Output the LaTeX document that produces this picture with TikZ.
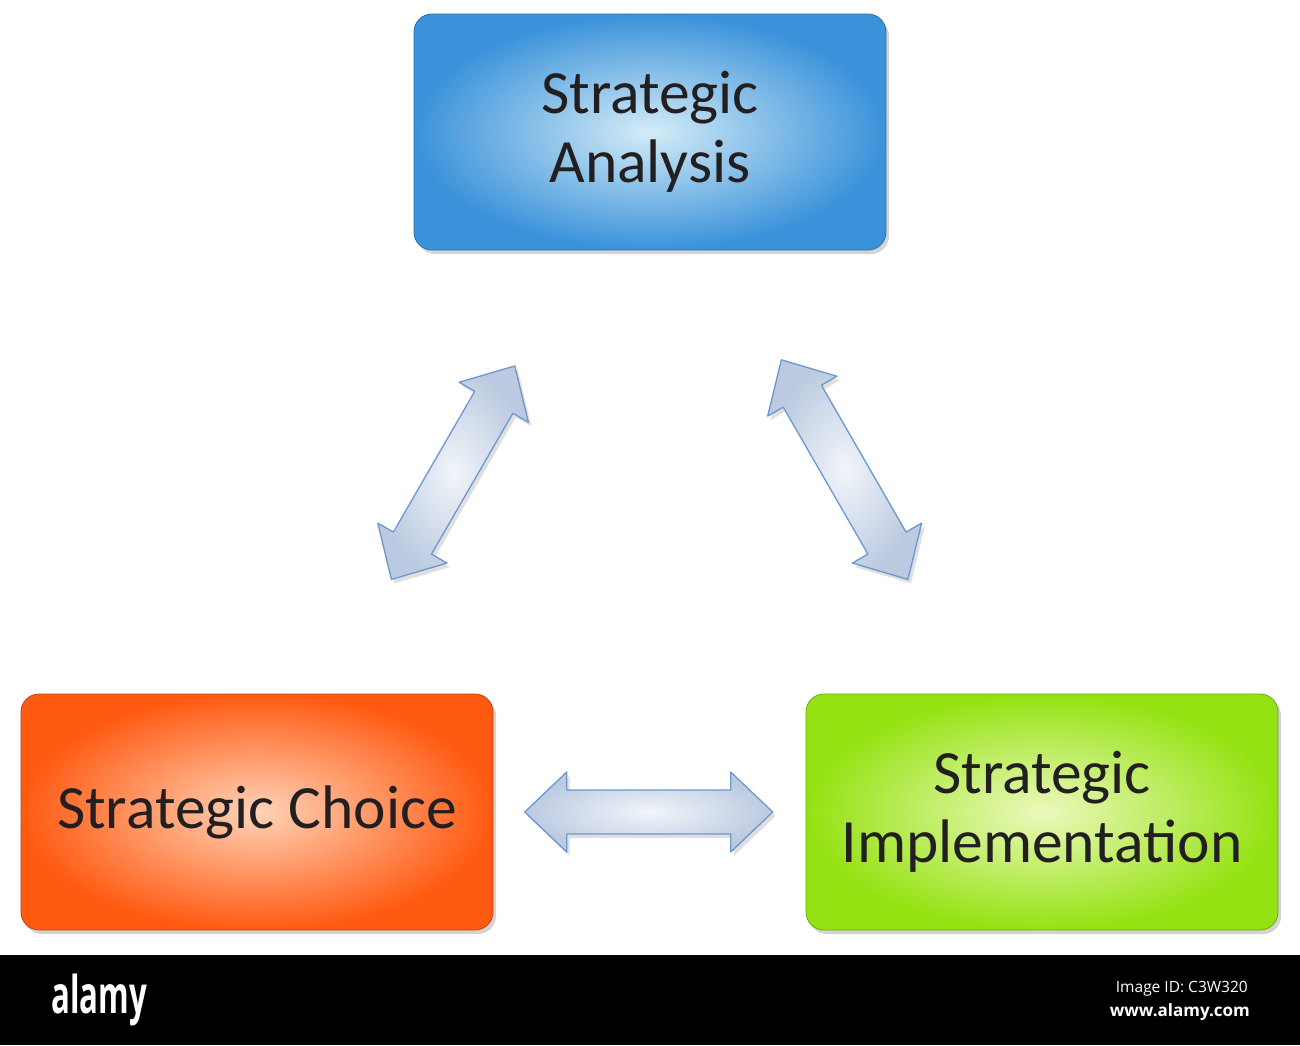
\documentclass[tikz,border=0pt]{standalone}
\usepackage{fontspec}
\setmainfont{Carlito}
\newfontfamily\barfont{Open Sans}
\newfontfamily\logofont[FakeStretch=0.6]{Open Sans}
\usetikzlibrary{calc,shadows}

\definecolor{textdark}{HTML}{231F20}
\definecolor{bluein}{HTML}{D4ECF7}
\definecolor{blueout}{HTML}{3A92DA}
\definecolor{orangein}{HTML}{FFD3B8}
\definecolor{orangeout}{HTML}{FF5A12}
\definecolor{greenin}{HTML}{ECF9BC}
\definecolor{greenout}{HTML}{94E212}
\definecolor{arrowin}{HTML}{F2F5FA}
\definecolor{arrowout}{HTML}{BBCAE0}
\definecolor{arrowedge}{HTML}{6C98CF}

\begin{document}
\begin{tikzpicture}[x=1pt, y=-1pt,
  stage/.style={draw=#1!75!black, line width=0.8pt, rounded corners=18pt,
    minimum width=472pt, minimum height=236pt, align=center, text=textdark,
    font=\fontsize{61.5}{69}\selectfont,
    drop shadow={opacity=0.35, shadow xshift=3pt, shadow yshift=-4pt}},
  twoway/.style={draw=arrowedge, line width=1.3pt, line join=round,
    inner color=arrowin, outer color=arrowout,
    drop shadow={opacity=0.25, shadow xshift=3pt, shadow yshift=-4pt}},
  bartext/.style={text=white, inner sep=0pt}
]

\def \hl {42pt}  % head length
\def \hw {40pt}  % head half width
\def \sw {22pt}  % shaft half width

\useasboundingbox (0,0) rectangle (1300,1045);

% the three stages
\node[stage=blueout, inner color=bluein, outer color=blueout] (analysis) at (650,132)
  {Strategic\\Analysis};
\node[stage=orangeout, inner color=orangein, outer color=orangeout] (choice) at (257,812)
  {Strategic Choice};
\node[stage=greenout, inner color=greenin, outer color=greenout] (implementation) at (1042,812)
  {Strategic\\Implementation};

% double arrows between the stages
\foreach \a/\b/\s/\e in {choice/analysis/0.342/0.656,
                         analysis/implementation/0.335/0.658,
                         choice/implementation/0.341/0.657}
{
  \coordinate (p) at ($(\a)!\s!(\b)$);
  \coordinate (q) at ($(\a)!\e!(\b)$);
  \coordinate (hp) at ($(p)!\hl!(q)$);
  \coordinate (hq) at ($(q)!\hl!(p)$);
  \draw[twoway] (p) -- ($(hp)!\hw!90:(q)$) -- ($(hp)!\sw!90:(q)$)
    -- ($(hq)!\sw!-90:(p)$) -- ($(hq)!\hw!-90:(p)$) -- (q)
    -- ($(hq)!\hw!90:(p)$) -- ($(hq)!\sw!90:(p)$)
    -- ($(hp)!\sw!-90:(q)$) -- ($(hp)!\hw!-90:(q)$) -- cycle;
}

% bottom bar
\fill[black] (0,955) rectangle (1300,1045);
\node[bartext, anchor=base west, font=\logofont\bfseries\fontsize{52}{52}\selectfont]
  (logo) at (51,1013) {alamy};
\node[bartext, anchor=base east, font=\barfont\fontsize{15.5}{16}\selectfont]
  (imageid) at (1248,992) {Image ID: C3W320};
\node[bartext, anchor=base east, font=\barfont\bfseries\fontsize{17}{18}\selectfont]
  (site) at (1250,1016) {www.alamy.com};
\end{tikzpicture}
\end{document}
